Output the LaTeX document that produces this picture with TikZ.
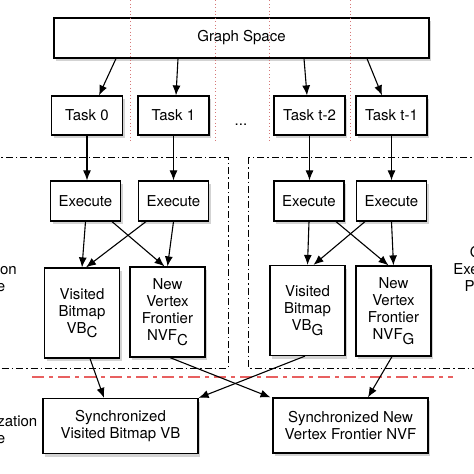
\documentclass[tikz,border=0pt]{standalone}
\usepackage{fontspec}
\setmainfont{TeX Gyre Heros}
\usetikzlibrary{positioning}
\usetikzlibrary{arrows.meta,shadows}

\definecolor{sepred}{RGB}{232,96,96}
\definecolor{cutred}{RGB}{214,120,120}

\tikzset{
  box/.style={draw,line width=1.2pt,fill=white,align=center,inner sep=0pt,
    drop shadow={shadow xshift=2pt,shadow yshift=-3pt,opacity=.35}},
  task/.style={minimum width=71,minimum height=39},
  exec/.style={minimum width=70,minimum height=40},
  store/.style={minimum width=75,minimum height=90},
  syncbox/.style={minimum width=155,minimum height=55},
  phase/.style={align=center},
  flow/.style={->,line width=1.1pt},
  phaseframe/.style={line width=1pt,dash pattern=on 7pt off 3pt on 1.5pt off 3pt},
  syncline/.style={sepred,line width=2.2pt,dash pattern=on 12pt off 5pt on 4pt off 5pt},
  cutline/.style={cutred,line width=0.8pt,dash pattern=on 1pt off 2.5pt}
}
\newcommand{\lowsub}[1]{\raisebox{-4.5pt}{#1}}

\begin{document}
\begin{tikzpicture}[x=1pt,y=-1pt,>={Latex[length=10pt,width=8pt]},
  every node/.style={font=\fontsize{15}{17}\selectfont}]
\clip (0,0) rectangle (474,474);

% execution phases
\draw[phaseframe] (-5,157) rectangle (228,368);
\draw[phaseframe] (248,157) rectangle (480,368);
\draw[syncline] (32,377) -- (453,377);

\node[phase] (cpu) at (-16,269) {CPU\\Execution\\Phase};
\node[phase] (gpu) at (486,269) {GPU\\Execution\\Phase};
\node[phase] (syncph) at (-16,430) {Synchronization\\Phase};

% graph and tasks
\node[box,minimum width=375,minimum height=40] (gs) at (241.5,38) {Graph Space};
\node[box,task] (t0) at (87,115.5) {Task 0};
\node[box,task] (t1) at (173.5,115.5) {Task 1};
\node[box,task] (t2) at (309.5,115.5) {Task t-2};
\node[box,task] (t3) at (391.5,115.5) {Task t-1};
\node (dots) at (241,125) {...};

\node[box,exec] (e0) at (85.5,201) {Execute};
\node[box,exec] (e1) at (173.5,201) {Execute};
\node[box,exec] (e2) at (309,201) {Execute};
\node[box,exec] (e3) at (391.5,201) {Execute};

\node[box,store] (vb0) at (82,313) {Visited\\Bitmap\\VB\lowsub{C}};
\node[box,store] (nvf0) at (167.5,312) {New\\Vertex\\Frontier\\NVF\lowsub{C}};
\node[box,store] (vb1) at (307.5,310.5) {Visited\\Bitmap\\VB\lowsub{G}};
\node[box,store] (nvf1) at (393.5,311) {New\\Vertex\\Frontier\\NVF\lowsub{G}};

\node[box,syncbox] (svb) at (120.5,426) {Synchronized\\Visited Bitmap VB};
\node[box,syncbox] (snvf) at (350.5,425.5) {Synchronized New\\Vertex Frontier NVF};

% task split
\foreach \x in {130,215,269,350}
  \draw[cutline] (\x,0) -- (\x,143);

\draw[flow] ([xshift=-125.5pt]gs.south) -- ([xshift=12pt]t0.north);
\draw[flow] ([xshift=-63.5pt]gs.south) -- ([xshift=2.5pt]t1.north);
\draw[flow] ([xshift=62.5pt]gs.south) -- ([xshift=-2.5pt]t2.north);
\draw[flow] ([xshift=125.5pt]gs.south) -- ([xshift=-9.5pt]t3.north);

\draw[flow] (t0.south) -- (t0.south |- e0.north);
\draw[flow] (t1.south) -- (t1.south |- e1.north);
\draw[flow] (t2.south) -- (t2.south |- e2.north);
\draw[flow] (t3.south) -- (t3.south |- e3.north);

\draw[flow] (e0.south) -- (vb0.north);
\draw[flow] ([xshift=26.5pt]e0.south) -- ([xshift=-3pt]nvf0.north);
\draw[flow] ([xshift=-27.5pt]e1.south) -- ([xshift=4pt]vb0.north);
\draw[flow] (e1.south) -- (nvf0.north);
\draw[flow] (e2.south) -- (vb1.north);
\draw[flow] ([xshift=27pt]e2.south) -- ([xshift=-5pt]nvf1.north);
\draw[flow] ([xshift=-26.5pt]e3.south) -- ([xshift=6pt]vb1.north);
\draw[flow] (e3.south) -- (nvf1.north);

\draw[flow] ([xshift=8pt]vb0.south) -- ([xshift=-16.5pt]svb.north);
\draw[flow] ([xshift=2.5pt]nvf0.south) -- ([xshift=-80pt]snvf.north);
\draw[flow] ([xshift=-2.5pt]vb1.south) -- (svb.north east);
\draw[flow] ([xshift=-1.5pt]nvf1.south) -- ([xshift=17.5pt]snvf.north);
\end{tikzpicture}
\end{document}
